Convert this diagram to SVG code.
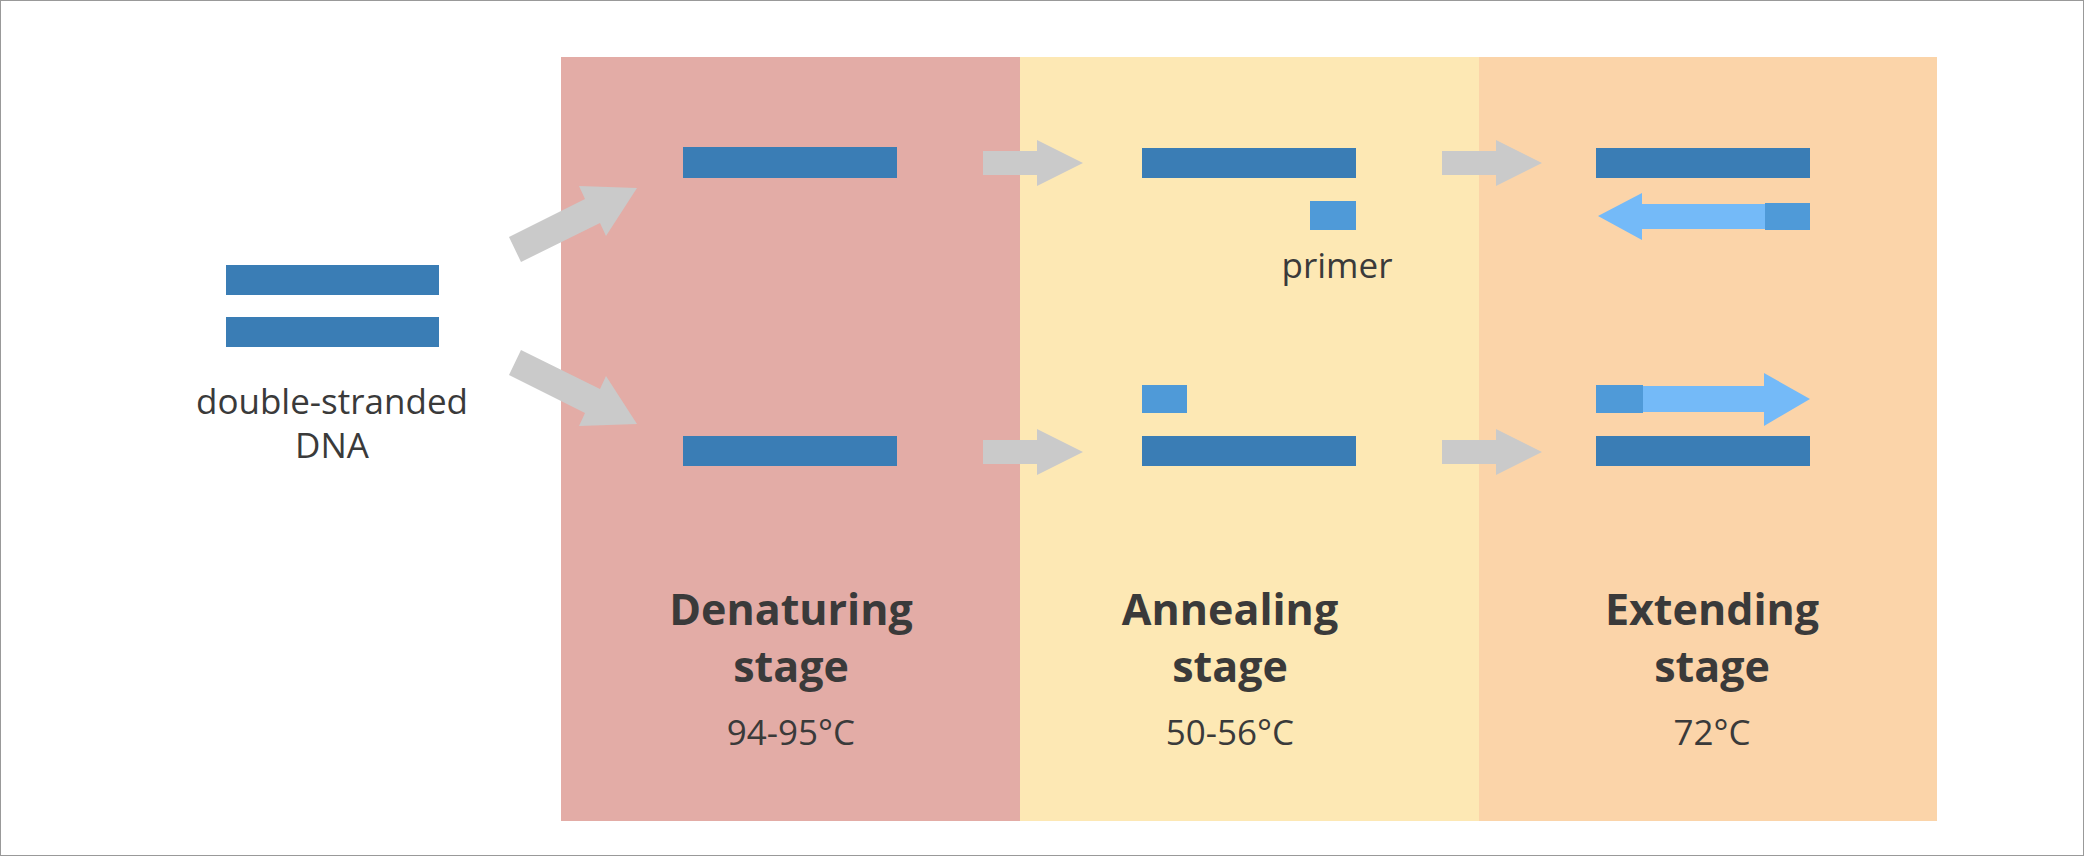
<svg xmlns="http://www.w3.org/2000/svg" width="2084" height="856" viewBox="0 0 2084 856">
<style>
.s{fill:#3a7db5}.p{fill:#4f9ad8}.e{fill:#74baf8}.g{fill:#cacaca}
text{font-family:"Open Sans","Noto Sans",sans-serif;fill:#3a3a3a;text-anchor:middle}
.t{font-size:43px;font-weight:bold}.n{font-size:35px}
</style>
<rect x="0.5" y="0.5" width="2083" height="855" fill="#fff" stroke="#999"/>
<g id="panels">
<rect x="561" y="57" width="459" height="764" fill="#e3aca6"/>
<rect x="1020" y="57" width="459" height="764" fill="#fde8b4"/>
<rect x="1479" y="57" width="458" height="764" fill="#fbd4a9"/>
</g>
<g id="dna">
<rect class="s" x="226" y="265" width="213" height="30"/>
<rect class="s" x="226" y="317" width="213" height="30"/>
<text class="n" x="332" y="414">double-stranded</text>
<text class="n" x="332" y="458">DNA</text>
</g>
<g id="denaturing">
<rect class="s" x="683" y="147" width="214" height="31"/>
<rect class="s" x="683" y="436" width="214" height="30"/>
<text class="t" x="791" y="625">Denaturing</text>
<text class="t" x="791" y="682">stage</text>
<text class="n" x="791" y="745">94-95°C</text>
</g>
<g id="annealing">
<rect class="s" x="1142" y="148" width="214" height="30"/>
<rect class="p" x="1310" y="201" width="46" height="29"/>
<text class="n" x="1337" y="278">primer</text>
<rect class="p" x="1142" y="385" width="45" height="28"/>
<rect class="s" x="1142" y="436" width="214" height="30"/>
<text class="t" x="1230" y="625">Annealing</text>
<text class="t" x="1230" y="682">stage</text>
<text class="n" x="1230" y="745">50-56°C</text>
</g>
<g id="extending">
<rect class="s" x="1596" y="148" width="214" height="30"/>
<polygon class="e" points="1598,216 1642,193 1642,204 1765,204 1765,229 1642,229 1642,240"/>
<rect class="p" x="1765" y="203" width="45" height="27"/>
<polygon class="e" points="1643,386 1764,386 1764,373 1810,399 1764,426 1764,412 1643,412"/>
<rect class="p" x="1596" y="385" width="47" height="28"/>
<rect class="s" x="1596" y="436" width="214" height="30"/>
<text class="t" x="1712" y="625">Extending</text>
<text class="t" x="1712" y="682">stage</text>
<text class="n" x="1712" y="745">72°C</text>
</g>
<g id="connectors">
<polygon class="g" points="509,237 585,199 579,186 637,188 606,236 600,223 521,262"/>
<polygon class="g" points="509,375 585,413 579,426 637,424 606,376 600,389 521,350"/>
<polygon class="g" points="983,151 1037,151 1037,140 1083,163 1037,186 1037,175 983,175"/>
<polygon class="g" points="1442,151 1496,151 1496,140 1542,163 1496,186 1496,175 1442,175"/>
<polygon class="g" points="983,440 1037,440 1037,429 1083,452 1037,475 1037,464 983,464"/>
<polygon class="g" points="1442,440 1496,440 1496,429 1542,452 1496,475 1496,464 1442,464"/>
</g>
</svg>
